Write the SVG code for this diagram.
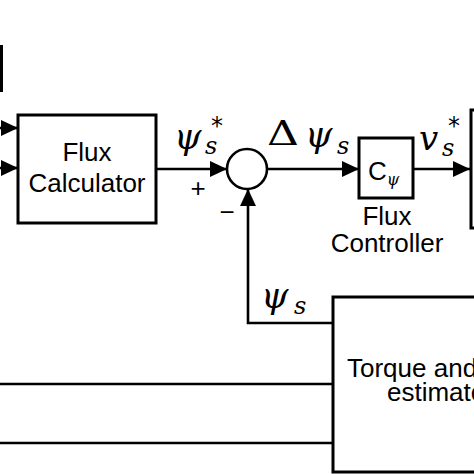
<svg xmlns="http://www.w3.org/2000/svg" width="474" height="474" viewBox="0 0 474 474">
<style>
.box{fill:#fff;stroke:#000;stroke-width:3}
.ln{fill:none;stroke:#000;stroke-width:2.6}
.lbl{font-family:"Liberation Sans",Arial,sans-serif;font-size:26px;fill:#000}
.m{font-family:"DejaVu Serif","Liberation Serif",serif;font-style:italic;fill:#000}
.ast{font-family:"DejaVu Sans","Liberation Sans",sans-serif;font-size:24px;fill:#000}
</style>
<defs>
<marker id="ah" markerUnits="userSpaceOnUse" markerWidth="18" markerHeight="16" refX="17" refY="8" orient="auto">
<path d="M0,0 L17,8 L0,16 Z" fill="#000"/>
</marker>
</defs>
<rect width="474" height="474" fill="#fff"/>
<g id="connectors">
<line class="ln" x1="0" y1="128" x2="18" y2="128" marker-end="url(#ah)"/>
<line class="ln" x1="0" y1="168" x2="18" y2="168" marker-end="url(#ah)"/>
<line class="ln" x1="156" y1="169" x2="227" y2="169" marker-end="url(#ah)"/>
<line class="ln" x1="267" y1="169" x2="359" y2="169" marker-end="url(#ah)"/>
<line class="ln" x1="413" y1="169" x2="470" y2="169" marker-end="url(#ah)"/>
<polyline class="ln" points="333,323 248,323 248,189" marker-end="url(#ah)"/>
<line class="ln" x1="0" y1="384" x2="333" y2="384"/>
<line class="ln" x1="0" y1="443" x2="333" y2="443"/>
</g>
<g id="topleft-block"><rect x="0" y="45" width="3" height="47" fill="#000"/></g>
<g id="flux-calculator">
<rect class="box" x="18" y="115" width="138" height="108"/>
<text class="lbl" x="87" y="161" text-anchor="middle">Flux</text>
<text class="lbl" x="87" y="192" text-anchor="middle">Calculator</text>
</g>
<g id="sum">
<circle cx="247" cy="169" r="20" fill="#fff" stroke="#000" stroke-width="2.6"/>
<text class="lbl" x="198" y="197" text-anchor="middle">+</text>
<text class="lbl" x="227" y="221" text-anchor="middle">−</text>
</g>
<g id="flux-controller">
<rect class="box" x="359" y="138" width="54" height="60"/>
<text class="lbl" x="368" y="180">C<tspan class="m" font-size="16" dy="5">ψ</tspan></text>
<text class="lbl" x="387" y="225" text-anchor="middle">Flux</text>
<text class="lbl" x="387" y="252" text-anchor="middle">Controller</text>
</g>
<g id="right-block"><rect x="471" y="110" width="20" height="118" fill="#fff" stroke="#000" stroke-width="3"/></g>
<g id="torque-flux-estimator">
<rect class="box" x="333" y="297" width="160" height="175"/>
<text class="lbl" x="347" y="377">Torque and</text>
<text class="lbl" x="387" y="401">estimator</text>
</g>
<g id="labels">
<text class="m" x="174" y="149" font-size="35">ψ</text>
<text class="m" x="205" y="154" font-size="24">s</text>
<text class="ast" x="211" y="134">*</text>
<text transform="translate(267,145) scale(1.3,1)" font-family="'DejaVu Serif','Liberation Serif',serif" font-size="34">Δ</text>
<text class="m" x="305" y="147" font-size="35">ψ</text>
<text class="m" x="337" y="154" font-size="24">s</text>
<text class="m" x="419" y="150" font-size="34">v</text>
<text class="m" x="442" y="156" font-size="24">s</text>
<text class="ast" x="448" y="134">*</text>
<text class="m" x="261" y="308" font-size="35">ψ</text>
<text class="m" x="294" y="314" font-size="24">s</text>
</g>
</svg>
